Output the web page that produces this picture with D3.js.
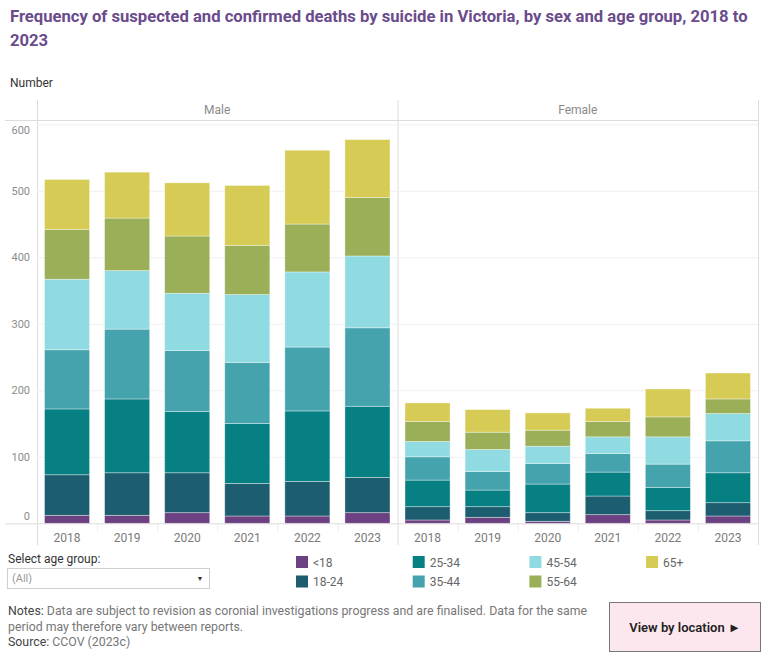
<!DOCTYPE html>
<html>
<head>
<meta charset="utf-8">
<script src="https://cdn.jsdelivr.net/npm/d3@7"></script>
<style>
  body { margin: 0; background: #fff; }
  svg { display: block; font-family: Roboto, "Noto Sans", sans-serif; }
</style>
</head>
<body>
<svg id="chart" width="768" height="659"></svg>
<script>
// Data
const years = ['2018', '2019', '2020', '2021', '2022', '2023']
const sexes = ['Male', 'Female']
const ageGroups = ['<18', '18-24', '25-34', '35-44', '45-54', '55-64', '65+']
const yTicks = [0, 100, 200, 300, 400, 500, 600]

// Male counts by age group, one value per year
const maleUnder18 = [12, 12, 16, 11, 11, 16]
const male18to24 = [61, 64, 60, 49, 52, 53]
const male25to34 = [99, 111, 92, 90, 106, 107]
const male35to44 = [89, 105, 92, 92, 96, 118]
const male45to54 = [106, 88, 86, 102, 113, 108]
const male55to64 = [75, 79, 86, 74, 72, 88]
const male65plus = [75, 69, 80, 90, 111, 87]

// Female counts by age group, one value per year
const femaleUnder18 = [5, 9, 3, 13, 5, 11]
const female18to24 = [20, 16, 13, 28, 14, 20]
const female25to34 = [40, 25, 43, 36, 35, 45]
const female35to44 = [35, 28, 31, 28, 35, 48]
const female45to54 = [23, 33, 26, 25, 41, 41]
const female55to64 = [30, 26, 24, 23, 30, 22]
const female65plus = [28, 34, 26, 20, 42, 39]

const colors = ['#6b4181', '#1c5d6f', '#078083', '#44a3ad', '#90dbe2', '#9aaf58', '#d6cc55']

const seriesBySex = {
  Male: [maleUnder18, male18to24, male25to34, male35to44, male45to54, male55to64, male65plus],
  Female: [femaleUnder18, female18to24, female25to34, female35to44, female45to54, female55to64, female65plus]
}

const svg = d3.select('#chart')

// squeeze a text horizontally so it spans the given width (narrow Tableau font)
const fitWidth = (sel, w) => {
  const bb = sel.node().getBBox()
  const sx = w / bb.width
  sel.attr('transform', `translate(${bb.x},0) scale(${sx},1) translate(${-bb.x},0)`)
  return sx
}

// Title
const t1 = svg.append('text')
  .attr('x', 10).attr('y', 22)
  .attr('fill', '#6a4b8c').attr('font-size', 16).attr('font-weight', 700)
  .text('Frequency of suspected and confirmed deaths by suicide in Victoria, by sex and age group, 2018 to')
const titleScale = fitWidth(t1, 738)
const t2 = svg.append('text')
  .attr('x', 10).attr('y', 46)
  .attr('fill', '#6a4b8c').attr('font-size', 16).attr('font-weight', 700)
  .text('2023')
t2.attr('transform', `translate(10,0) scale(${titleScale},1) translate(-10,0)`)

svg.append('text')
  .attr('x', 10).attr('y', 87)
  .attr('fill', '#333').attr('font-size', 12)
  .text('Number')

// Layout
const plotLeft = 37
const plotRight = 758
const plotTop = 124.3
const base = 523.3
const panelW = (plotRight - plotLeft) / 2

const yScale = d3.scaleLinear().domain([0, 600]).range([base, plotTop])

// header row and frame lines
const frame = svg.append('g').attr('stroke', '#dcdcdc').attr('stroke-width', 1)
frame.append('line').attr('x1', 5).attr('x2', plotRight).attr('y1', 120.5).attr('y2', 120.5)
frame.append('line').attr('x1', 5).attr('x2', plotRight).attr('y1', base + 0.5).attr('y2', base + 0.5)
;[plotLeft, plotLeft + panelW, plotRight].forEach(x => {
  frame.append('line').attr('x1', x + 0.5).attr('x2', x + 0.5).attr('y1', 100).attr('y2', 545)
})

// gridlines
const grid = d3.axisLeft(yScale).tickValues(yTicks.filter(d => d > 0)).tickSize(-(plotRight - plotLeft)).tickFormat('')
svg.append('g')
  .attr('transform', `translate(${plotLeft},0)`)
  .call(grid)
  .call(g => g.select('.domain').remove())
  .call(g => g.selectAll('line').attr('stroke', '#f0f0f0'))

// y axis labels
const yAxis = d3.axisLeft(yScale).tickValues(yTicks).tickSize(0).tickPadding(7)
svg.append('g')
  .attr('transform', `translate(${plotLeft},0)`)
  .call(yAxis)
  .call(g => g.select('.domain').remove())
  .call(g => g.selectAll('text')
    .attr('fill', '#8c8c8c').attr('font-size', 11).attr('font-family', 'Roboto, sans-serif')
    .attr('dy', d => d === 600 ? '0.85em' : d === 0 ? '-0.35em' : '0.32em'))

sexes.forEach((sex, si) => {
  const x0 = plotLeft + si * panelW
  const xScale = d3.scaleBand()
    .domain(years)
    .range([x0, x0 + panelW])
    .paddingInner(0.25)
    .paddingOuter(0.125)

  // panel header
  svg.append('text')
    .attr('x', x0 + panelW / 2).attr('y', 114)
    .attr('text-anchor', 'middle')
    .attr('fill', '#8a8a8a').attr('font-size', 12)
    .text(sex)

  // stacked bars
  const rows = years.map((yr, i) => {
    const row = { year: yr }
    ageGroups.forEach((a, k) => { row[a] = seriesBySex[sex][k][i] })
    return row
  })
  const stacked = d3.stack().keys(ageGroups)(rows)

  svg.append('g')
    .selectAll('g')
    .data(stacked)
    .join('g')
    .attr('fill', (d, k) => colors[k])
    .selectAll('rect')
    .data(d => d)
    .join('rect')
    .attr('x', d => xScale(d.data.year))
    .attr('y', d => yScale(d[1]))
    .attr('width', xScale.bandwidth())
    .attr('height', d => yScale(d[0]) - yScale(d[1]))
    .attr('stroke', 'rgba(255,255,255,0.45)')
    .attr('stroke-width', 0.8)

  // x axis labels and band separators
  const xAxis = d3.axisBottom(xScale).tickSize(0).tickPadding(10)
  svg.append('g')
    .attr('transform', `translate(0,${base})`)
    .call(xAxis)
    .call(g => g.select('.domain').remove())
    .call(g => g.selectAll('text')
      .attr('fill', '#7a7a7a').attr('font-size', 12).attr('font-family', 'Roboto, sans-serif'))

  const step = xScale.step()
  d3.range(1, years.length).forEach(k => {
    svg.append('line')
      .attr('x1', x0 + k * step + 0.5).attr('x2', x0 + k * step + 0.5)
      .attr('y1', base + 1).attr('y2', base + 8)
      .attr('stroke', '#ececec')
  })
})

// age group selector
svg.append('text')
  .attr('x', 8).attr('y', 563)
  .attr('fill', '#333').attr('font-size', 12)
  .text('Select age group:')
svg.append('rect')
  .attr('x', 7.5).attr('y', 568.5).attr('width', 202).attr('height', 20)
  .attr('fill', '#fff').attr('stroke', '#cfcfcf')
svg.append('text')
  .attr('x', 12).attr('y', 582)
  .attr('fill', '#999').attr('font-size', 11)
  .text('(All)')
svg.append('text')
  .attr('x', 200).attr('y', 581)
  .attr('text-anchor', 'middle')
  .attr('fill', '#333').attr('font-size', 7)
  .text('▼')

// legend
const legend = svg.append('g')
ageGroups.forEach((a, k) => {
  const col = Math.floor(k / 2)
  const row = k % 2
  const lx = 296 + col * 116.7
  const ly = 556 + row * 19.5
  legend.append('rect')
    .attr('x', lx).attr('y', ly).attr('width', 12).attr('height', 12)
    .attr('fill', colors[k])
  legend.append('text')
    .attr('x', lx + 17).attr('y', ly + 10.5)
    .attr('fill', '#666').attr('font-size', 12)
    .text(a)
})

// notes
const n1 = svg.append('text').attr('x', 8).attr('y', 615).attr('font-size', 12).attr('fill', '#777')
n1.append('tspan').attr('fill', '#444').text('Notes: ')
n1.append('tspan').text('Data are subject to revision as coronial investigations progress and are finalised. Data for the same')
const noteScale = fitWidth(n1, 580)
svg.append('text').attr('x', 8).attr('y', 631).attr('font-size', 12).attr('fill', '#777')
  .attr('transform', `translate(8,0) scale(${noteScale},1) translate(-8,0)`)
  .text('period may therefore vary between reports.')
const n3 = svg.append('text').attr('x', 8).attr('y', 646).attr('font-size', 12).attr('fill', '#777')
  .attr('transform', `translate(8,0) scale(${noteScale},1) translate(-8,0)`)
n3.append('tspan').attr('fill', '#444').text('Source: ')
n3.append('tspan').text('CCOV (2023c)')

// button
svg.append('rect')
  .attr('x', 609.5).attr('y', 602.5).attr('width', 151).attr('height', 49)
  .attr('fill', '#fde7ee').attr('stroke', '#777')
svg.append('text')
  .attr('x', 685).attr('y', 632)
  .attr('text-anchor', 'middle')
  .attr('fill', '#222').attr('font-size', 13).attr('font-weight', 600)
  .text('View by location ►')
</script>
</body>
</html>
